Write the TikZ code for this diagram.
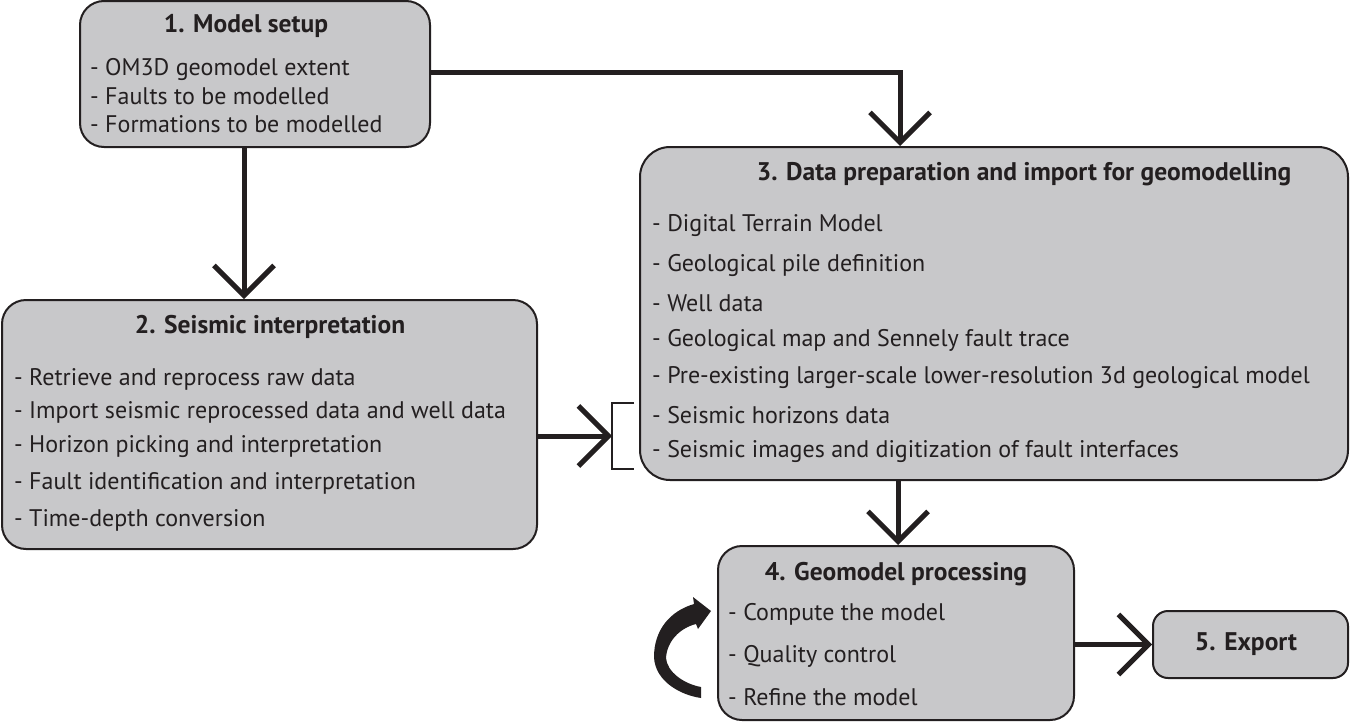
\documentclass[tikz,border=0pt]{standalone}
\usepackage{fontspec}
\setmainfont{PT Sans}
\usetikzlibrary{arrows.meta,calc}
\definecolor{boxgray}{HTML}{C8C8CA}
\definecolor{ink}{HTML}{231F20}
\begin{document}
\begin{tikzpicture}[x=1pt,y=-1pt,
  box/.style={draw=ink,fill=boxgray,line width=2pt,rounded corners=24pt,inner sep=0pt},
  ttl/.style={font=\fontsize{25.5}{30}\selectfont\bfseries,text=ink,inner sep=0pt},
  itm/.style={font=\fontsize{24}{28}\selectfont,text=ink,anchor=west,inner sep=0pt},
  arr/.style={draw=ink,line width=5pt,-{Straight Barb[length=30pt,width=60pt,line width=5pt]}},
  brk/.style={draw=ink,line width=2pt}]
\useasboundingbox (0,0) rectangle (1350,723);
% boxes
\node[box,minimum width=350pt,minimum height=146pt] (b1) at (255,74) {};
\node[box,minimum width=535pt,minimum height=249pt] (b2) at (269.5,424.5) {};
\node[box,minimum width=708pt,minimum height=333pt,rounded corners=30pt] (b3) at (994,313.5) {};
\node[box,minimum width=356pt,minimum height=174pt] (b4) at (896,633) {};
\node[box,minimum width=195pt,minimum height=67pt,rounded corners=15pt] (b5) at (1250.5,644.5) {};
% titles
\node[ttl] (t1) at (246,26) {1. Model setup};
\node[ttl] (t2) at (270,327) {2. Seismic interpretation};
\node[ttl] (t3) at (1024,174) {3. Data preparation and import for geomodelling};
\node[ttl] (t4) at (896,574) {4. Geomodel processing};
\node[ttl] (t5) at (1246,644) {5. Export};
% box 1 items
\node[itm] (a1) at (90,69) {- OM3D geomodel extent};
\node[itm] (a2) at (90,96) {- Faults to be modelled};
\node[itm] (a3) at (90,124) {- Formations to be modelled};
% box 2 items
\node[itm] (c1) at (14,379) {- Retrieve and reprocess raw data};
\node[itm] (c2) at (14,412) {- Import seismic reprocessed data and well data};
\node[itm] (c3) at (14,447) {- Horizon picking and interpretation};
\node[itm] (c4) at (14,483) {- Fault identification and interpretation};
\node[itm] (c5) at (14,520) {- Time-depth conversion};
% box 3 items
\node[itm] (d1) at (652,226) {- Digital Terrain Model};
\node[itm] (d2) at (652,265) {- Geological pile definition};
\node[itm] (d3) at (652,303) {- Well data};
\node[itm] (d4) at (652,340) {- Geological map and Sennely fault trace};
\node[itm] (d5) at (652,378) {- Pre-existing larger-scale lower-resolution 3d geological model};
\node[itm] (d6) at (652,415) {- Seismic horizons data};
\node[itm] (d7) at (652,451) {- Seismic images and digitization of fault interfaces};
% box 4 items
\node[itm] (e1) at (728,614) {- Compute the model};
\node[itm] (e2) at (728,656) {- Quality control};
\node[itm] (e3) at (728,697) {- Refine the model};
% helper coordinates
\coordinate (x12) at (244,0);
\coordinate (x13) at (900,0);
\coordinate (x34) at (898,0);
\coordinate (bt) at (634,403);
\coordinate (bb) at (634,469);
\coordinate (bm) at (612,436);
% connectors
\draw[arr] (b1.south -| x12) -- (b2.north -| x12);
\draw[arr] (b1.east |- 0,72) -- (x13 |- 0,72) -- (b3.north -| x13);
\draw[brk] (bt) -- (bt -| bm) -- (bb -| bm) -- (bb);
\draw[arr] (b2.east |- bm) -- (bm);
\draw[arr] (b3.south -| x34) -- (b4.north -| x34);
\draw[arr] (b4.east |- b5.west) -- (b5.west);
% loop arrow
\fill[ink] (711,611) -- (693,597) -- (694,604)
  .. controls (670,611) and (654,630) .. (654,657)
  .. controls (655,681) and (680,695) .. (701,698)
  -- (701,687)
  .. controls (684,684) and (667,672) .. (666,658)
  .. controls (667,641) and (680,628) .. (696,624)
  -- (698,629) -- cycle;
\end{tikzpicture}
\end{document}
